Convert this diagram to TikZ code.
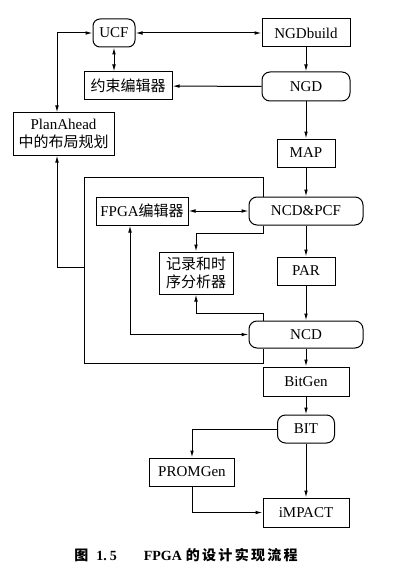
\documentclass[tikz,border=0pt]{standalone}
\usepackage{fontspec}
\setmainfont{Liberation Serif}
\newfontfamily\cjk{Noto Sans CJK SC}
\usetikzlibrary{arrows.meta,calc}
\begin{document}
\begin{tikzpicture}[x=1pt,y=-1pt,
  box/.style={draw,line width=1pt,inner sep=0pt,font=\fontsize{15}{18}\selectfont,align=center},
  rbox/.style={box,rounded corners=7pt},
  cbox/.style={box,font=\fontsize{15}{18}\selectfont\cjk},
  tip/.tip={Latex[length=7pt,width=3.6pt]},
  ln/.style={line width=1pt},
  arr/.style={ln,-tip},
  dbl/.style={ln,tip-tip}]
\useasboundingbox (0,0) rectangle (403,575);

% nodes
\node[rbox,minimum width=42pt,minimum height=28pt] (ucf) at (114,33) {UCF};
\node[box,minimum width=88pt,minimum height=28pt] (ngdb) at (306,33) {NGDbuild};
\node[cbox,minimum width=88pt,minimum height=28pt] (ys) at (128,86) {约束编辑器};
\node[rbox,rounded corners=8pt,minimum width=88pt,minimum height=29pt] (ngd) at (306,86.5) {NGD};
\node[box,minimum width=101pt,minimum height=42pt] (plan) at (63.5,134) {PlanAhead\\{\cjk 中的布局规划}};
\node[box,minimum width=58pt,minimum height=28pt] (map) at (306,153) {MAP};
\node[box,minimum width=92pt,minimum height=28pt] (fpga) at (142,211) {FPGA{\cjk 编辑器}};
\node[rbox,rounded corners=8pt,minimum width=114pt,minimum height=28pt] (ncdpcf) at (306,211) {NCD\&PCF};
\node[cbox,minimum width=74pt,minimum height=42pt] (jl) at (196,273) {记录和时\\序分析器};
\node[box,minimum width=58pt,minimum height=28pt] (par) at (306,271) {PAR};
\node[rbox,rounded corners=8pt,minimum width=114pt,minimum height=27pt] (ncd) at (306,334.5) {NCD};
\node[box,minimum width=86pt,minimum height=29pt] (bitgen) at (306,381.5) {BitGen};
\node[rbox,rounded corners=8pt,minimum width=57pt,minimum height=28pt] (bit) at (306,429) {BIT};
\node[box,minimum width=85pt,minimum height=28pt] (prom) at (192,472) {PROMGen};
\node[box,minimum width=86pt,minimum height=29pt] (imp) at (306,512.5) {iMPACT};

% caption
\node[inner sep=0pt,font=\fontsize{14}{16}\selectfont\bfseries] (cap) at (186,555)
  {{\cjk\bfseries 图}\hspace{8pt}1.\hspace{3pt}5\hspace{27pt}FPGA\hspace{4pt}{\cjk\bfseries 的\hspace{2.3pt}设\hspace{2.3pt}计\hspace{2.3pt}实\hspace{2.3pt}现\hspace{2.3pt}流\hspace{2.3pt}程}};

% helper coordinates
\coordinate (rx) at (263,0);
\coordinate (lx) at (57,0);
\coordinate (ex) at (130,0);
\coordinate (ftl) at (84,177);
\coordinate (ftr) at (263,177);
\coordinate (fbl) at (84,363);
\coordinate (fbr) at (263,363);
\coordinate (fl) at (84,267);
\coordinate (t1) at (263,233);
\coordinate (t2) at (263,313);

% connectors
\draw[dbl] (ucf) -- (ngdb);
\draw[dbl] (ucf.south) -- (ucf.south |- ys.north);
\draw[dbl] (ucf.west) -| (lx |- plan.north);
\draw[arr] (ngdb) -- (ngd);
\draw[arr] (ngd) -- (ys);
\draw[arr] (ngd) -- (map);
\draw[arr] (map) -- (ncdpcf);
\draw[dbl] (fpga) -- (ncdpcf);
\draw[arr] (ncdpcf) -- (par);
\draw[arr] (par) -- (ncd);
\draw[arr] (ncd) -- (bitgen);
\draw[arr] (bitgen) -- (bit);
\draw[arr] (bit) -- (imp);
\draw[arr] (bit.west) -| (prom.north);
\draw[arr] (prom.south) |- (imp.west);

% big frame
\draw[ln] (rx |- ncdpcf.north) -- (ftr) -- (ftl) -- (fbl) -- (fbr) -- (rx |- ncd.south);
\draw[arr] (rx |- ncdpcf.south) -- (t1) -| (jl.north);
\draw[arr] (rx |- ncd.north) -- (t2) -| (jl.south);
\draw[dbl] (ex |- fpga.south) |- (ncd.west);
\draw[arr] (fl) -| (lx |- plan.south);
\end{tikzpicture}
\end{document}
